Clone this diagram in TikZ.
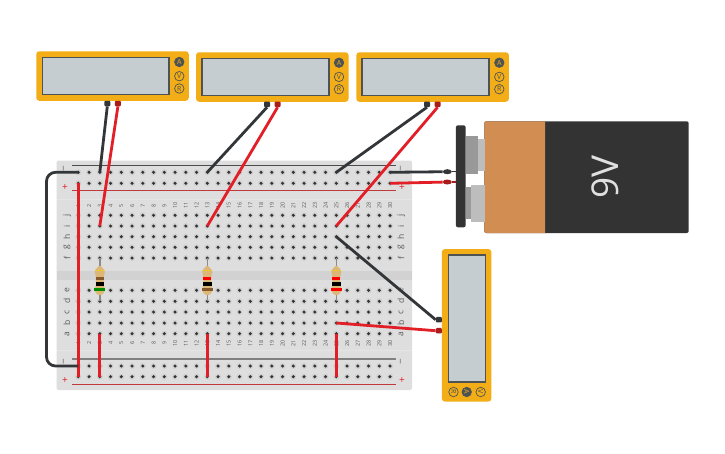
\documentclass[tikz,border=0pt]{standalone}
\usepackage{fontspec}
\usetikzlibrary{shapes.geometric}
\setmainfont{Open Sans}
\definecolor{meterorange}{HTML}{F3AE17}
\definecolor{meterscreen}{HTML}{C5CDD0}
\definecolor{meterdark}{HTML}{4D5354}
\definecolor{boardgray}{HTML}{DEDEDE}
\definecolor{bandgray}{HTML}{D2D2D2}
\definecolor{holehalo}{HTML}{D0D0D0}
\definecolor{wireblack}{HTML}{333638}
\definecolor{wirered}{HTML}{E21E26}
\definecolor{plugred}{HTML}{A81C1C}
\definecolor{railred}{HTML}{C0393B}
\definecolor{battorange}{HTML}{D18D52}
\definecolor{battdark}{HTML}{333333}
\definecolor{resbody}{HTML}{DDB777}
\tikzset{
    meterbody/.style={fill=meterorange,rounded corners=3pt,minimum width=#1,inner sep=0pt,outer sep=0pt},
    meterscr/.style={fill=meterscreen,draw=meterdark,line width=1.8pt,inner sep=0pt,outer sep=0pt},
    meterbtn/.style={circle,draw=meterdark,line width=0.7pt,minimum size=9.5pt,inner sep=0pt,text=meterdark,font=\fontsize{7}{7}\selectfont},
    meteron/.style={meterbtn,fill=meterdark,text=meterorange},
    wire/.style={line width=2.8pt,draw=#1},
    plug/.style={fill=#1,rounded corners=1pt,minimum width=6pt,minimum height=5.5pt,inner sep=0pt},
    boardtxt/.style={rotate=90,text=black!65,inner sep=0pt,font=\fontsize{5.5}{6}\selectfont},
    rowtxt/.style={rotate=90,text=black!65,inner sep=0pt,font=\fontsize{8.5}{9}\selectfont},
    railtxt/.style={text=#1,inner sep=0pt,font=\fontsize{10}{10}\selectfont},
    band/.style={fill=#1,minimum height=3.2pt,inner sep=0pt},
    clipplug/.style={fill=#1,ellipse,minimum width=9pt,minimum height=5pt,inner sep=0pt},
}
\newcommand{\holeat}[1]{\fill[holehalo] (#1) circle (3pt);\fill[black!80] (#1) circle (1.7pt);}
\begin{document}
\begin{tikzpicture}[x=1pt,y=-1pt]
    \useasboundingbox (0,0) rectangle (725,453);
    \fill[boardgray,rounded corners=2pt] (56.5,160.5) rectangle (412,390);
    \fill[bandgray] (56.5,271) rectangle (412,280);
    \draw[white!90!black,line width=0.8pt] (56.5,199) -- (412,199) (56.5,350) -- (412,350);
    \draw[black!70,line width=1pt] (72,165) -- (396,165);
    \draw[railred,line width=1pt] (72,190.7) -- (396,190.7);
    \draw[black!50,line width=1.2pt] (72,359) -- (396,359);
    \draw[railred,line width=1pt] (72,384) -- (396,384);
    \foreach \side/\txtx in {l/65,r/402}{
        \node[railtxt=black!60,rotate=90] (minustop\side) at (\txtx,168.5) {−};
        \node[railtxt=wirered] (plustop\side) at (\txtx,188) {+};
        \node[railtxt=black!60,rotate=90] (minusbot\side) at (\txtx,361.5) {−};
        \node[railtxt=wirered] (plusbot\side) at (\txtx,380.5) {+};
        \foreach \letter/\rowy in {j/215.3,i/226,h/236.7,g/247.3,f/258,e/290.3,d/301.3,c/312,b/323,a/333.7}{
            \node[rowtxt] (txt\side\letter) at ({\txtx+(\txtx<100?2:-1)},\rowy) {\letter};
        }
    }
    \foreach \col in {1,...,30}{
        \pgfmathsetmacro{\colx}{78.3+(\col-1)*10.75}
        \node[boardtxt] (numtop\col) at (\colx,205.5) {\col};
        \node[boardtxt] (numbot\col) at (\colx,343.3) {\col};
        \foreach \row/\rowy in {p/172.3,q/183.3,j/215.3,i/226,h/236.7,g/247.3,f/258,e/290.3,d/301.3,c/312,b/323,a/333.7,m/366,n/376.7}{
            \coordinate (\row\col) at (\colx,\rowy);
            \holeat{\row\col}
        }
    }
    \foreach \name/\col/\bandA/\bandB/\bandC in {resA/3/brown!70!black/black/green!55!black,resB/13/red/black/brown!70!black,resC/25/red/black/red}{
        \draw[black!45,line width=1.4pt] (f\col) -- (d\col);
        \fill[resbody,rounded corners=1.5pt] (f\col) ++(0,7) -- ++(5.5,6) -- ++(-1.6,5) -- ++(0,10) -- ++(1.6,4) -- ++(-3,5) -- ++(-5,0) -- ++(-3,-5) -- ++(1.6,-4) -- ++(0,-10) -- ++(-1.6,-5) -- cycle;
        \node[band=\bandA,minimum width=7.8pt] (\name a) at ([yshift=-20.6pt]f\col) {};
        \node[band=\bandB,minimum width=8.4pt] (\name b) at ([yshift=-26pt]f\col) {};
        \node[band=\bandC,minimum width=10.8pt] (\name c) at ([yshift=-31.5pt]f\col) {};
        \fill[yellow!70!orange,opacity=0.6] ([yshift=-11.6pt,xshift=-5pt]f\col) rectangle ([yshift=-12.6pt,xshift=5pt]f\col);
    }
    \node[meterbody=152.5pt,minimum height=49.5pt] (meterA) at (112.5,76) {};
    \node[meterbody=152.5pt,minimum height=49.5pt] (meterB) at (272.3,77) {};
    \node[meterbody=152.5pt,minimum height=49.5pt] (meterC) at (432.6,77) {};
    \node[meterbody=49.5pt,minimum height=152.5pt] (meterD) at (466.6,325.3) {};
    \node[meterscr,minimum width=126.5pt,minimum height=37pt] (screenA) at (105.7,76) {};
    \node[meterscr,minimum width=126.5pt,minimum height=37pt] (screenB) at (265.5,76.9) {};
    \node[meterscr,minimum width=126.5pt,minimum height=37pt] (screenC) at (425.5,76.9) {};
    \node[meterscr,minimum width=37pt,minimum height=126.5pt] (screenD) at (467,318.5) {};
    \foreach \m/\mx/\my in {A/179.3/62,B/339/62.7,C/499.3/62.7}{
        \node[meteron] (btn\m a) at (\mx,\my) {A};
        \node[meterbtn] (btn\m v) at (\mx,\my+14.2) {V};
        \node[meterbtn] (btn\m r) at (\mx,\my+26.5) {R};
    }
    \node[meterbtn,rotate=-90] (btnDr) at (453.5,392) {R};
    \node[meteron,rotate=-90] (btnDa) at (466.7,392) {A};
    \node[meterbtn,rotate=-90] (btnDv) at (480.7,392) {V};
    \foreach \m/\mx/\my in {A/107.3/103.5,B/267/104.3,C/427/104.3}{
        \node[plug=wireblack] (blk\m) at (\mx,\my) {};
        \node[plug=plugred] (red\m) at (\mx+10.6,\my) {};
    }
    \node[plug=wireblack] (blkD) at (438.8,319.7) {};
    \node[plug=plugred] (redD) at (438.8,330.7) {};
    \draw[wire=wireblack] (blkA.south) -- (p3);
    \draw[wire=wirered] (redA.south) -- (i3);
    \draw[wire=wireblack] (blkB.south) -- (p13);
    \draw[wire=wirered] (redB.south) -- (i13);
    \draw[wire=wireblack] (blkC.south) -- (p25);
    \draw[wire=wirered] (redC.south) -- (i25);
    \draw[wire=wireblack] (blkD.west) -- (h25);
    \draw[wire=wirered] (redD.west) -- (b25);
    \draw[wire=wirered] (q1) -- (n1);
    \draw[wire=wirered] (a3) -- (n3);
    \draw[wire=wirered] (a13) -- (n13);
    \draw[wire=wirered] (a25) -- (n25);
    \draw[wire=wireblack,rounded corners=9pt] (p1) -- (46.5,172.3) -- (46.5,366) -- (m1);
    \fill[battdark,rounded corners=2pt] (484.3,121.3) rectangle (688.7,233);
    \fill[battorange] (545,121.3) [rounded corners=2pt] -- (484.3,121.3) -- (484.3,233) [sharp corners] -- (545,233) -- cycle;
    \fill[black!40] (465.7,136) rectangle (478,174);
    \fill[black!26] (478,139) rectangle (484.5,170.7);
    \fill[black!40] (465.7,186.7) rectangle (471,219.3);
    \fill[black!26] (470.5,184.7) rectangle (484.5,221.7);
    \node[fill=battdark,rounded corners=2pt,minimum width=9.7pt,minimum height=102pt,inner sep=0pt] (clip) at (460.8,176.3) {};
    \node[rotate=90,text=black!12,inner sep=0pt,font=\fontsize{37}{37}\selectfont] (label) at (605.7,176.7) {9V};
    \node[clipplug=wireblack] (blkE) at (447.3,171.7) {};
    \node[clipplug=plugred] (redE) at (447.3,182) {};
    \draw[wireblack,line width=1.2pt] (blkE) -- (clip.west |- blkE);
    \draw[plugred,line width=1.2pt] (redE) -- (clip.west |- redE);
    \draw[wire=wireblack] (blkE) -- (p30);
    \draw[wire=wirered] (redE) -- (q30);
\end{tikzpicture}
\end{document}
